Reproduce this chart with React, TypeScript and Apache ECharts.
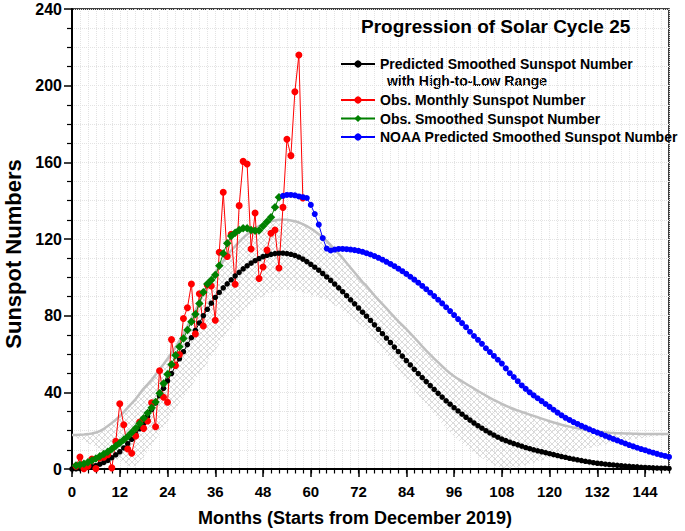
import { useEffect, useRef } from "react";
import * as echarts from "echarts";

// Predicted smoothed sunspot number, months 0..150
const predictedSSN = [
  0, 0.1, 0.2, 0.4, 0.8, 1.2, 1.7, 2.5, 3.4, 4.5,
  5.9, 7.4, 9.0, 11.0, 13.2, 15.5, 18.2, 21.0, 24.0, 27.4,
  31.0, 34.5, 38.3, 42.1, 46.0, 49.8, 53.7, 57.5, 61.2, 64.9,
  68.5, 72.3, 76.2, 80.0, 83.3, 86.5, 89.5, 92.1, 94.5, 96.6,
  98.7, 100.7, 102.6, 104.4, 106.0, 107.4, 108.7, 109.8, 110.8, 111.5,
  112.0, 112.4, 112.6, 112.6, 112.4, 112.0, 111.4, 110.6, 109.5, 108.2,
  106.8, 105.3, 103.7, 102.0, 100.2, 98.4, 96.5, 94.5, 92.5, 90.4,
  88.3, 86.2, 84.0, 81.8, 79.7, 77.5, 75.2, 72.9, 70.6, 68.3,
  66.0, 63.6, 61.3, 58.9, 56.6, 54.3, 52.0, 49.8, 47.7, 45.6,
  43.5, 41.5, 39.5, 37.5, 35.6, 33.8, 32.0, 30.3, 28.6, 27.0,
  25.5, 24.0, 22.6, 21.3, 20.0, 18.8, 17.7, 16.6, 15.6, 14.8,
  14.0, 13.3, 12.6, 11.9, 11.2, 10.6, 10.0, 9.5, 9.0, 8.5,
  8.0, 7.5, 7.0, 6.5, 6.1, 5.6, 5.2, 4.8, 4.4, 4.0,
  3.7, 3.3, 3.0, 2.8, 2.5, 2.3, 2.1, 1.9, 1.7, 1.5,
  1.4, 1.2, 1.1, 0.9, 0.8, 0.7, 0.6, 0.5, 0.4, 0.4,
  0.3,
];

// High end of the predicted range, months 0..150
const predictedHigh = [
  17.8, 17.8, 17.9, 18.0, 18.2, 18.5, 19.0, 19.8, 21.0, 22.4,
  24.0, 25.7, 27.5, 29.7, 32.0, 34.2, 36.5, 39.2, 42.0, 44.2,
  46.5, 49.2, 52.0, 54.7, 57.5, 60.4, 63.5, 66.9, 70.5, 74.4,
  78.5, 82.7, 87.0, 91.3, 95.5, 99.1, 102.5, 105.6, 108.5, 111.3,
  114.0, 116.3, 118.5, 120.6, 122.5, 124.1, 125.5, 126.7, 127.8, 128.6,
  129.2, 129.7, 130.0, 130.1, 130.0, 129.7, 129.3, 128.6, 127.8, 126.7,
  125.5, 124.1, 122.5, 120.8, 119.0, 116.8, 114.5, 112.3, 110.0, 107.5,
  105.0, 102.5, 100.0, 97.5, 95.5, 93.0, 90.5, 88.2, 86.0, 83.8,
  81.5, 79.2, 77.0, 75.0, 73.0, 70.8, 68.6, 66.3, 64.0, 61.8,
  59.7, 57.6, 55.6, 53.6, 51.7, 50.0, 48.4, 47.0, 45.7, 44.5,
  43.2, 42.0, 40.7, 39.5, 38.3, 37.1, 36.0, 35.0, 34.0, 33.0,
  32.1, 31.3, 30.5, 29.8, 29.1, 28.4, 27.7, 27.0, 26.3, 25.6,
  24.9, 24.3, 23.7, 23.1, 22.6, 22.1, 21.6, 21.2, 20.8, 20.4,
  20.1, 19.8, 19.5, 19.3, 19.1, 18.9, 18.8, 18.7, 18.6, 18.5,
  18.5, 18.4, 18.4, 18.3, 18.3, 18.3, 18.3, 18.2, 18.2, 18.2,
  18.2,
];

// Low end of the predicted range, months 0..150
const predictedLow = [
  17.5, 16.5, 15.5, 14.5, 13.5, 12.5, 11.3, 10.1, 8.9, 7.7,
  6.5, 5.4, 4.3, 3.2, 2.1, 1.0, 1.8, 4.0, 6.5, 9.2,
  12.0, 15.2, 18.5, 21.7, 24.8, 28.0, 31.2, 34.4, 37.5, 40.5,
  43.5, 46.5, 49.5, 52.5, 55.5, 58.7, 61.9, 65.0, 68.2, 71.4,
  74.5, 77.0, 79.6, 82.0, 84.0, 85.9, 87.5, 88.9, 90.1, 91.2,
  92.1, 92.8, 93.3, 93.5, 93.5, 93.3, 93.0, 92.6, 92.1, 91.6,
  91.0, 90.4, 89.7, 89.0, 88.0, 86.9, 85.6, 84.2, 82.7, 81.1,
  79.5, 77.8, 76.1, 74.3, 72.5, 70.1, 67.6, 65.1, 62.5, 59.8,
  57.1, 54.4, 51.6, 48.9, 46.3, 43.6, 41.0, 38.5, 36.0, 33.5,
  31.0, 28.6, 26.2, 23.8, 21.5, 19.4, 17.4, 15.4, 13.5, 11.8,
  10.1, 8.5, 7.0, 5.7, 4.4, 3.2, 2.1, 1.2, 0.6, 0.3,
  0.2, 0.5, 1.0, 1.5, 2.1, 2.7, 3.3, 3.9, 4.5, 5.1,
  5.7, 6.3, 6.9, 7.5, 8.0, 8.5, 9.0, 9.5, 10.0, 10.5,
  11.0, 11.4, 11.9, 12.3, 12.8, 13.2, 13.6, 14.0, 14.4, 14.8,
  15.2, 15.5, 15.8, 16.1, 16.4, 16.7, 17.0, 17.2, 17.4, 17.6,
  17.7,
];

// Observed monthly sunspot number, from month 1 (December 2019)
const monthlyStart = 1;
const obsMonthly = [
  1.5, 6.2, 0.2, 1.5, 5.2, 0.2, 5.8, 6.1, 7.5, 0.6,
  14.4, 34.0, 23.1, 10.4, 8.2, 17.2, 24.5, 21.2, 25.0, 34.6,
  22.0, 51.3, 37.4, 34.8, 67.5, 54.0, 59.7, 78.5, 84.1, 96.5,
  70.5, 91.4, 74.6, 96.0, 95.5, 77.6, 113.1, 144.4, 110.9, 122.5,
  96.4, 137.4, 160.5, 159.1, 114.8, 133.6, 99.4, 105.4, 114.2, 123.0,
  124.7, 104.9, 136.5, 172.0, 163.5, 196.8, 216.0, 141.4,
];

// Observed 13-month smoothed sunspot number, from month 1
const smoothedStart = 1;
const obsSmoothed = [
  1.8, 2.2, 2.8, 3.5, 4.4, 5.5, 6.7, 7.8, 9.0, 10.4,
  12.0, 13.6, 15.3, 17.0, 19.0, 21.3, 23.8, 26.5, 29.2, 32.0,
  35.0, 39.5, 44.6, 49.5, 54.5, 59.4, 63.8, 68.1, 72.5, 76.8,
  80.8, 86.4, 92.2, 96.5, 98.6, 101.2, 106.0, 112.5, 117.8, 121.6,
  123.3, 124.7, 125.6, 125.6, 124.7, 124.3, 124.5, 126.8, 129.0, 131.3,
  136.6, 141.8,
];

// NOAA predicted smoothed sunspot number, from month 53
const noaaStart = 53;
const noaaPredicted = [
  142.5, 143.0, 143.0, 142.8, 142.2, 141.8, 141.4, 137.8, 133.0, 127.5,
  120.5, 115.0, 114.0, 114.5, 114.8, 114.8, 114.7, 114.5, 114.2, 113.8,
  113.3, 112.6, 111.9, 111.1, 110.2, 109.2, 108.1, 107.0, 105.8, 104.5,
  103.2, 101.8, 100.3, 98.8, 97.2, 95.5, 93.8, 92.0, 90.2, 88.3,
  86.4, 84.4, 82.4, 80.3, 78.2, 76.1, 74.0, 71.6, 69.4, 67.4,
  65.3, 63.0, 61.0, 59.0, 57.0, 55.0, 52.5, 50.0, 48.0, 45.8,
  43.6, 41.8, 40.0, 38.4, 36.9, 35.4, 33.9, 32.4, 30.9, 29.4,
  28.0, 26.7, 25.6, 24.5, 23.5, 22.5, 21.6, 20.7, 19.8, 19.0,
  18.2, 17.3, 16.5, 15.7, 14.9, 14.1, 13.3, 12.5, 11.8, 11.1,
  10.4, 9.8, 9.1, 8.5, 7.9, 7.3, 6.8, 6.3,
];

const FONT = 'Arial, "Liberation Sans", sans-serif';
const GRID_COLOR = "#e3e3e3";

const toPoints = (values: number[], start: number) =>
  values.map((v, i) => [start + i, v]);

export default function App() {
  const chartRef = useRef<HTMLDivElement>(null);

  useEffect(() => {
    if (!chartRef.current) return;
    const chart = echarts.init(chartRef.current, undefined, { renderer: "svg" });

    // cross-hatch tile for the high-to-low band
    const hatch = document.createElement("canvas");
    hatch.width = 6;
    hatch.height = 6;
    const ctx = hatch.getContext("2d");
    if (ctx) {
      ctx.strokeStyle = "#cbcbcb";
      ctx.lineWidth = 0.7;
      ctx.beginPath();
      ctx.moveTo(0, 0);
      ctx.lineTo(6, 6);
      ctx.moveTo(6, 0);
      ctx.lineTo(0, 6);
      ctx.stroke();
    }
    const hatchFill = {
      image: hatch,
      repeat: "repeat",
      imageWidth: 6,
      imageHeight: 6,
    };

    const legendText = {
      color: "#000",
      fontSize: 14,
      fontWeight: "bold",
      fontFamily: FONT,
    };

    chart.setOption({
      animation: false,
      backgroundColor: "#fff",
      title: {
        text: "Progression of Solar Cycle 25",
        left: 361,
        top: 17,
        padding: 0,
        textStyle: {
          color: "#000",
          fontSize: 19,
          fontWeight: "bold",
          fontFamily: FONT,
        },
      },
      legend: [
        {
          data: ["Predicted Smoothed Sunspot Number"],
          orient: "vertical",
          left: 340,
          top: 57,
          padding: 0,
          itemWidth: 34,
          itemHeight: 9,
          selectedMode: false,
          textStyle: legendText,
        },
        {
          data: [
            "Obs. Monthly Sunspot Number",
            "Obs. Smoothed Sunspot Number",
            "NOAA Predicted Smoothed Sunspot Number",
          ],
          orient: "vertical",
          left: 340,
          top: 93,
          padding: 0,
          itemGap: 4.5,
          itemWidth: 34,
          itemHeight: 9,
          selectedMode: false,
          textStyle: legendText,
        },
      ],
      graphic: [
        {
          type: "text",
          left: 383,
          top: 74,
          style: { text: " with High-to-Low Range", fill: "#000", font: `bold 14px ${FONT}` },
        },
        {
          type: "text",
          x: 355,
          y: 518,
          style: {
            text: "Months (Starts from December 2019)",
            fill: "#000",
            font: `bold 18px ${FONT}`,
            align: "center",
            verticalAlign: "middle",
          },
        },
        {
          type: "text",
          x: 13,
          y: 254,
          rotation: Math.PI / 2,
          style: {
            text: "Sunspot Numbers",
            fill: "#000",
            font: `bold 22px ${FONT}`,
            align: "center",
            verticalAlign: "middle",
          },
        },
      ],
      grid: {
        left: 72,
        top: 9,
        width: 597,
        height: 460,
        show: true,
        borderColor: "#000",
        borderWidth: 1.5,
        backgroundColor: "transparent",
      },
      xAxis: [
        {
          type: "value",
          min: 0,
          max: 150,
          interval: 12,
          position: "bottom",
          axisLine: { show: true, onZero: false, lineStyle: { color: "#000", width: 2 } },
          axisTick: { show: true, length: 8, lineStyle: { color: "#000", width: 1.5 } },
          axisLabel: {
            margin: 15,
            color: "#000",
            fontSize: 15,
            fontWeight: "bold",
            fontFamily: FONT,
            showMaxLabel: false,
          },
          splitLine: { show: false },
        },
        {
          type: "value",
          min: 0,
          max: 150,
          interval: 2,
          position: "bottom",
          axisLine: { show: false },
          axisTick: { show: true, length: 4.5, lineStyle: { color: "#000", width: 1.2 } },
          axisLabel: { show: false },
          splitLine: { show: true, lineStyle: { color: GRID_COLOR, type: "dotted", width: 1 } },
        },
      ],
      yAxis: {
        type: "value",
        min: 0,
        max: 240,
        interval: 40,
        axisLine: { show: true, onZero: false, lineStyle: { color: "#000", width: 2 } },
        axisTick: { show: true, length: 8, lineStyle: { color: "#000", width: 1.5 } },
        minorTick: { show: true, splitNumber: 4, length: 5, lineStyle: { color: "#000", width: 1.2 } },
        axisLabel: {
          margin: 10,
          color: "#000",
          fontSize: 16,
          fontWeight: "bold",
          fontFamily: FONT,
        },
        splitLine: { show: true, lineStyle: { color: GRID_COLOR, type: "dotted", width: 1 } },
        minorSplitLine: { show: true, lineStyle: { color: GRID_COLOR, type: "dotted", width: 1 } },
      },
      series: [
        {
          name: "High-to-Low Range",
          type: "custom",
          xAxisIndex: 0,
          clip: true,
          silent: true,
          data: [0],
          renderItem: (_params: any, api: any) => {
            const pts: number[][] = [];
            predictedHigh.forEach((v, i) => pts.push(api.coord([i, v])));
            for (let i = predictedLow.length - 1; i >= 0; i--) {
              pts.push(api.coord([i, predictedLow[i]]));
            }
            return {
              type: "polygon",
              shape: { points: pts },
              style: { fill: hatchFill, stroke: "none" },
            };
          },
        },
        {
          name: "High Range",
          type: "line",
          xAxisIndex: 0,
          data: toPoints(predictedHigh, 0),
          symbol: "none",
          silent: true,
          lineStyle: { color: "#c0c0c0", width: 2.5 },
        },
        {
          name: "Predicted Smoothed Sunspot Number",
          type: "line",
          xAxisIndex: 0,
          data: toPoints(predictedSSN, 0),
          symbol: "circle",
          symbolSize: 5.5,
          showAllSymbol: true,
          itemStyle: { color: "#000" },
          lineStyle: { color: "#000", width: 1 },
        },
        {
          name: "Obs. Monthly Sunspot Number",
          type: "line",
          xAxisIndex: 0,
          data: toPoints(obsMonthly, monthlyStart),
          symbol: "circle",
          symbolSize: 7,
          showAllSymbol: true,
          itemStyle: { color: "#ff0000" },
          lineStyle: { color: "#ff0000", width: 1 },
        },
        {
          name: "Obs. Smoothed Sunspot Number",
          type: "line",
          xAxisIndex: 0,
          data: toPoints(obsSmoothed, smoothedStart),
          symbol: "diamond",
          symbolSize: 8.5,
          showAllSymbol: true,
          itemStyle: { color: "#008000" },
          lineStyle: { color: "#008000", width: 1 },
        },
        {
          name: "NOAA Predicted Smoothed Sunspot Number",
          type: "line",
          xAxisIndex: 0,
          data: toPoints(noaaPredicted, noaaStart),
          symbol: "circle",
          symbolSize: 6,
          showAllSymbol: true,
          itemStyle: { color: "#0000ff" },
          lineStyle: { color: "#0000ff", width: 1 },
        },
      ],
    });

    return () => {
      chart.dispose();
    };
  }, []);

  return (
    <div
      ref={chartRef}
      style={{ position: "fixed", left: 0, top: 0, width: "685px", height: "531px" }}
    ></div>
  );
}
